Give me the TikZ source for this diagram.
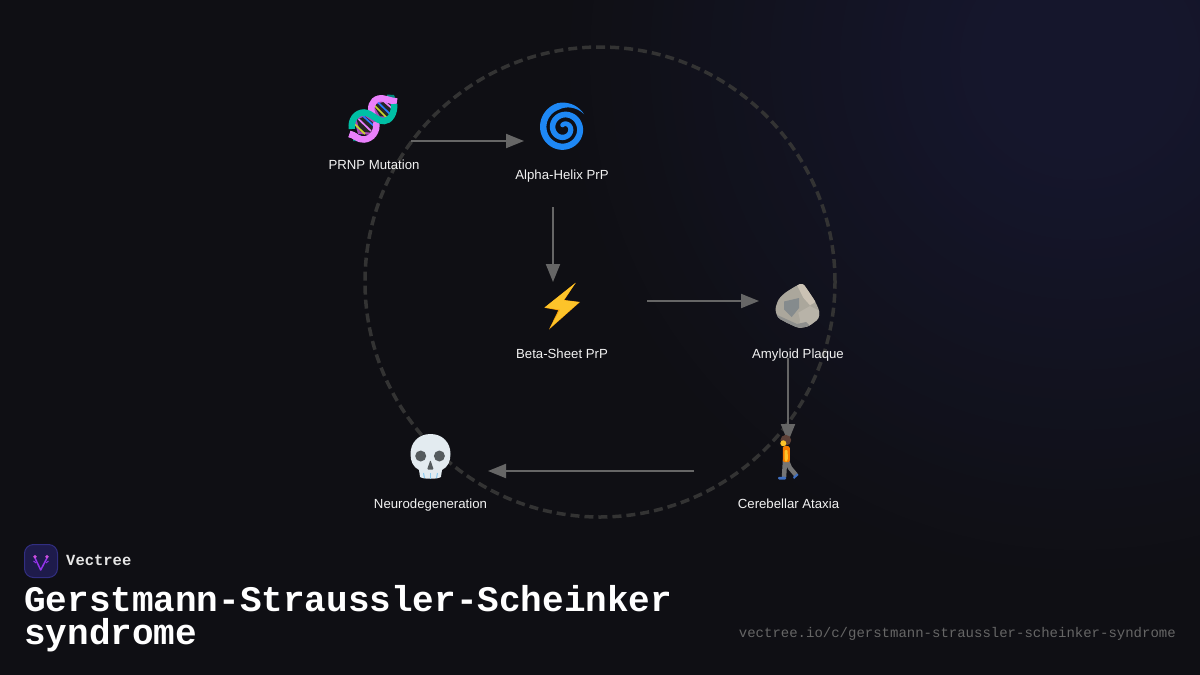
\documentclass[tikz,border=0pt]{standalone}
\usepackage{fontspec}
\setmainfont{Liberation Sans}
\setmonofont{Liberation Mono}
\usetikzlibrary{arrows.meta}
\definecolor{bgbase}{HTML}{0F0F14}
\definecolor{glowA}{HTML}{15162C}
\definecolor{ringc}{HTML}{333333}
\definecolor{arrowc}{HTML}{666666}
\definecolor{labelc}{HTML}{F2F2F2}
\definecolor{urlc}{HTML}{666666}
\definecolor{teal1}{HTML}{00BFA5}
\definecolor{teal2}{HTML}{00897B}
\definecolor{pink1}{HTML}{EA80FC}
\definecolor{purp1}{HTML}{AB47BC}
\definecolor{rungb}{HTML}{2979FF}
\definecolor{rungy}{HTML}{C6D62C}
\definecolor{blue1}{HTML}{1E88F5}
\definecolor{yel1}{HTML}{FDC42A}
\definecolor{org1}{HTML}{F59E0B}
\definecolor{skull1}{HTML}{E3EBF0}
\definecolor{skull2}{HTML}{555B5E}
\definecolor{tooth}{HTML}{8CCBF0}
\definecolor{rockA}{HTML}{ABA79C}
\definecolor{rockB}{HTML}{CBC2B4}
\definecolor{rockC}{HTML}{858B8D}
\definecolor{rockD}{HTML}{B8B3A8}
\definecolor{rockE}{HTML}{8E8F8D}
\definecolor{hair}{HTML}{5D4037}
\definecolor{shirt}{HTML}{F57C00}
\definecolor{pants}{HTML}{757575}
\definecolor{shoe}{HTML}{3F6FC0}
\definecolor{logofill}{HTML}{1E1B4B}
\definecolor{logoedge}{HTML}{312E81}
\definecolor{logov}{HTML}{9333EA}
\definecolor{logodot}{HTML}{C94FDC}
\definecolor{brandc}{HTML}{E5E5E5}
\tikzset{
  ring/.style={draw=ringc,line width=3.5pt,dash pattern=on 9pt off 5pt},
  arrowline/.style={draw=arrowc,line width=2pt,-{Triangle[length=18pt,width=14pt,fill=arrowc]}},
  hub/.style={shape=rectangle,inner sep=0pt,outer sep=0pt},
  lab/.style={anchor=base,text=labelc,font=\fontsize{13.2}{15}\selectfont},
}
\begin{document}
\begin{tikzpicture}[x=1pt,y=-1pt]
\useasboundingbox (0,0) rectangle (1200,675);
\fill[bgbase] (0,0) rectangle (1200,675);
\begin{scope}
  \clip (0,0) rectangle (1200,675);
  \foreach \rr in {520,510,...,100}{
    \pgfmathsetmacro{\pp}{(520-\rr)/4.2}
    \fill[glowA!\pp!bgbase] (1080,60) circle [radius=\rr];
  }
\end{scope}

% ring
\node[hub,minimum size=470pt,shape=circle,ring] (ringn) at (600,282) {};

% invisible hubs that the connectors run between
\node[hub,minimum width=76pt,minimum height=100pt] (n1) at (373,141) {};
\node[hub,minimum width=76pt,minimum height=132pt] (n2) at (562,141) {};
\node[hub,minimum width=170pt,minimum height=38pt] (n3) at (562,301) {};
\node[hub,minimum width=76pt,minimum height=114pt] (n4) at (797,301) {};
\node[hub,minimum width=188pt,minimum height=58pt] (n5) at (788,471) {};
\node[hub,minimum width=116pt,minimum height=58pt] (n6) at (430,471) {};

% connectors
\draw[arrowline] (n1.east) -- (n2.west);
\draw[arrowline] ([xshift=-9pt]n2.south) -- ([xshift=-9pt]n3.north);
\draw[arrowline] (n3.east) -- (n4.west);
\draw[arrowline] ([xshift=-9pt]n4.south) -- (n5.north);
\draw[arrowline] (n5.west) -- (n6.east);

% DNA icon
\begin{scope}
  \fill[teal2] (387,94.5) -- (394,95) -- (396,100) -- (388,100) -- cycle;
  \fill[teal2] (353,134) -- (361,135) -- (360,141.5) -- (353,141) -- cycle;
  \fill[purp1] (370,104) -- (386,98) -- (396,106) -- (392,118) -- (378,119) -- cycle;
  \fill[purp1] (354,119) -- (366,113) -- (378,122) -- (375,135) -- (358,134) -- cycle;
  \fill[black!85] (373.3,104.7) -- (386.7,101.3) -- (395,108) -- (391.7,116.3) -- (380,116.3) -- cycle;
  \fill[black!85] (356.7,119.7) -- (365,116.3) -- (376,124.7) -- (373.3,133) -- (360,131.3) -- cycle;
  \draw[line width=1.7pt,rungb] (378,102.5) -- (391,115);
  \draw[line width=1.7pt,rungy] (373.5,104.5) -- (386,117);
  \draw[line width=1.7pt,pink1] (383,100.5) -- (394,110);
  \draw[line width=1.7pt,rungb] (363,116) -- (375,127);
  \draw[line width=1.7pt,pink1] (358.5,119) -- (371,131);
  \draw[line width=1.7pt,rungy] (354.5,124) -- (365,134);
  \draw[pink1,line width=6.5pt] (397,101.5) .. controls (390,101) and (384,97.5) .. (379,98.5) .. controls (372,100) and (369,108) .. (373,116);
  \draw[pink1,line width=6.5pt] (349.5,134) .. controls (355,135) and (358,140) .. (364,139.5) .. controls (372,139) and (378,131) .. (376,122);
  \draw[teal1,line width=6.5pt] (394,104) .. controls (395,113) and (390,121) .. (384,121) .. controls (376,121) and (372,113) .. (364,112.5) .. controls (356,112.5) and (350.5,120) .. (352,129);
  \draw[pink1,line width=6.5pt] (349.5,134) .. controls (352,134.5) and (354,135.5) .. (356,137);
\end{scope}

% spiral icon
\fill[blue1] plot[domain=0:800,samples=240]
  ({564+(20.7+(145-\x)*9.4/360+(3.4-\x*0.0012)*min(\x/70,1))*cos(-35-\x)},{128.3+(20.7+(145-\x)*9.4/360+(3.4-\x*0.0012)*min(\x/70,1))*sin(-35-\x)})
  -- plot[domain=800:0,samples=240]
  ({564+(20.7+(145-\x)*9.4/360-(3.4-\x*0.0012)*min(\x/70,1))*cos(-35-\x)},{128.3+(20.7+(145-\x)*9.4/360-(3.4-\x*0.0012)*min(\x/70,1))*sin(-35-\x)})
  -- cycle;
\fill[blue1] (562.5,125) circle [radius=2.3];

% lightning icon
\fill[org1,line join=round] (575.7,282.7) -- (544.3,307.7) -- (558.3,310.3) -- (549,329.5) -- (580,302) -- (564.3,300) -- cycle;
\fill[yel1] (575.5,283) -- (544.8,307.4) -- (560,309.7) -- (550,328) -- (579,302.2) -- (563.5,300.2) -- cycle;

% rock icon
\begin{scope}
  \clip[rounded corners=3pt] (802.7,283) -- (796.7,285.5) -- (785,292.7) -- (778.3,299.3) -- (775,309.3) -- (777.7,317.7) -- (786.7,322.7) -- (798.3,328) -- (808.3,326.5) -- (818.8,318.7) -- (819.5,311) -- (815,301) -- (808.3,291) -- cycle;
  \fill[rockA] (770,280) rectangle (825,332);
  \fill[rockB] (803,282) -- (810,290) -- (817,301) -- (810,305.3) -- (803.3,297.7) -- (797,285) -- cycle;
  \fill[rockC] (784,301.5) -- (799,298) -- (799,308) -- (791.7,317) -- (784,309.5) -- cycle;
  \fill[rockD] (798.3,312.7) -- (810,306) -- (820,311) -- (820,320) -- (808.3,328) -- (798.3,329) -- (800,320) -- cycle;
  \fill[rockE] (775,314) -- (786,319) -- (797,324) -- (806,322) -- (812,328) -- (798,332) -- (775,322) -- cycle;
\end{scope}

% skull icon
\fill[skull1] (430.5,434) .. controls (418,434) and (410.5,443) .. (410.5,454) .. controls (410.5,461) and (413,467) .. (419,470) -- (420,476.5) .. controls (420,479.5) and (441,479.5) .. (441,476.5) -- (442,470) .. controls (448,467) and (450.5,461) .. (450.5,454) .. controls (450.5,443) and (443,434) .. (430.5,434) -- cycle;
\fill[skull2] (420.7,456) circle [radius=5.5];
\fill[skull2] (439.4,456) circle [radius=5.5];
\fill[skull2,rounded corners=1pt] (430.4,460) -- (433.7,469.5) -- (427.1,469.5) -- cycle;
\draw[tooth,line width=1pt] (423.5,473) -- (424.5,478);
\draw[tooth,line width=1pt] (430.5,473) -- (430.5,478.5);
\draw[tooth,line width=1pt] (437.5,473) -- (436.5,478);

% walker icon
\draw[pants,line width=4.5pt] (785,461) -- (784,477);
\draw[pants,line width=4.5pt] (787,461) -- (790,468) -- (796,475);
\fill[shoe,rounded corners=1pt] (778,477) -- (786,476.5) -- (786,479.5) -- (778,479.5) -- cycle;
\fill[shoe] (793,477) -- (797,473.5) -- (798.5,475) -- (794,479) -- cycle;
\fill[shirt,rounded corners=1.5pt] (783,446) -- (789.7,446) -- (790,462) -- (782.7,462) -- cycle;
\fill[yel1,rounded corners=1pt] (784.5,450) -- (787.5,450) -- (788,459) -- (786,462.5) -- (784.5,459) -- cycle;
\fill[hair] (785.8,440.2) circle [radius=5.4];
\fill[yel1] (783.3,443.3) circle [radius=3];

% labels
\node[lab] (l1) at (374,169.5) {PRNP Mutation};
\node[lab] (l2) at (562,179.5) {Alpha-Helix PrP};
\node[lab] (l3) at (562,358.3) {Beta-Sheet PrP};
\node[lab] (l4) at (798,358.3) {Amyloid Plaque};
\node[lab] (l5) at (788.5,508.2) {Cerebellar Ataxia};
\node[lab] (l6) at (430.5,508.2) {Neurodegeneration};

% brand
\fill[fill=logofill,draw=logoedge,line width=1pt,rounded corners=9pt] (24.5,544.5) rectangle (57.5,577.5);
\draw[logov,line width=1.5pt,line join=round] (35,558) -- (40.7,570) -- (47,558);
\draw[logov,line width=1pt] (33.5,561) -- (36,563);
\draw[logov,line width=1pt] (48.5,561) -- (46,563);
\fill[logodot] (35,556.7) circle [radius=1.8];
\fill[logodot] (47,556.7) circle [radius=1.8];
\node[anchor=base west,inner sep=0pt,text=brandc,font=\ttfamily\bfseries\fontsize{15.5}{18}\selectfont] (brand) at (66,565) {Vectree};
\node[anchor=base west,inner sep=0pt,text=white,font=\ttfamily\bfseries\fontsize{36}{40}\selectfont] (title1) at (24,611.5) {Gerstmann-Straussler-Scheinker};
\node[anchor=base west,inner sep=0pt,text=white,font=\ttfamily\bfseries\fontsize{36}{40}\selectfont] (title2) at (24,644.5) {syndrome};
\node[anchor=base east,inner sep=0pt,text=urlc,font=\ttfamily\fontsize{14}{16}\selectfont] (url) at (1176,637.5) {vectree.io/c/gerstmann-straussler-scheinker-syndrome};
\end{tikzpicture}
\end{document}
